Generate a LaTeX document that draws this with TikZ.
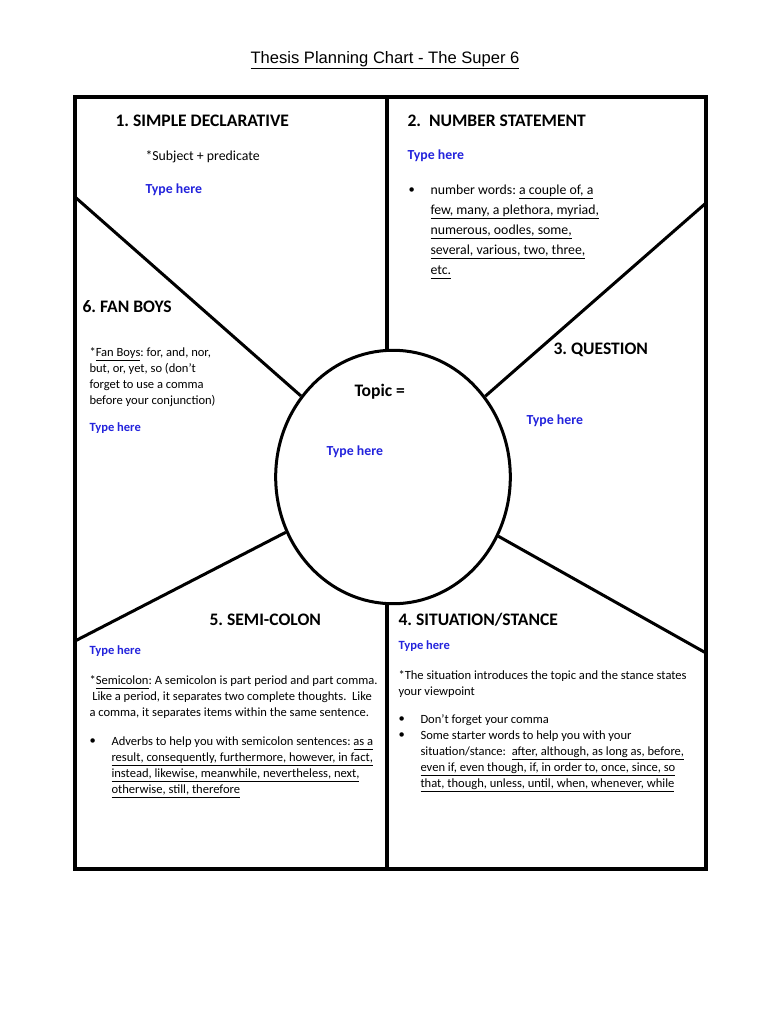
\documentclass[tikz,border=0pt]{standalone}
\usepackage{fontspec}
\setmainfont{Carlito}
\newfontfamily\titlefont{Liberation Sans}
\usepackage{xcolor}
\usepackage{tikz}
\usetikzlibrary{positioning, shapes.geometric}
\definecolor{TypeBlue}{HTML}{2323DC}
\newcommand{\bodyfont}{\fontsize{11}{15.9}\selectfont}
\newcommand{\smallfont}{\fontsize{10}{12.75}\selectfont}
\newcommand{\headfont}{\fontsize{14}{17}\selectfont\bfseries}
\newcommand{\ulword}[1]{\underline{#1\vphantom{y}}}
\frenchspacing

\begin{document}
\begin{tikzpicture}[x=0.797pt, y=-0.797pt, line width=2.4pt,
  heading/.style={anchor=base west, inner sep=0pt, font=\headfont},
  line/.style={anchor=base west, inner sep=0pt, font=\bodyfont},
  para/.style={anchor=north west, inner sep=0pt, align=left, font=\bodyfont},
  parasmall/.style={anchor=north west, inner sep=0pt, align=left, font=\smallfont},
  typehere/.style={anchor=base west, inner sep=0pt, text=TypeBlue, font=\bodyfont\bfseries},
  typesmall/.style={anchor=base west, inner sep=0pt, text=TypeBlue, font=\smallfont\bfseries},
  dot/.style={anchor=base west, inner sep=0pt, font=\smallfont}]
  \useasboundingbox (0,0) rectangle (768,1024);
  \node[inner sep=0pt, anchor=base, font=\titlefont\fontsize{13.2}{15}\selectfont] (title) at (385,63)
     {\underline{Thesis Planning Chart - The Super 6}};
  % frame and topic oval
  \draw[line width=3pt] (75,97) rectangle (706,869);
  \node[ellipse, draw, inner sep=0pt, minimum width=187pt, minimum height=202pt] (topic) at (393,477) {};
  \coordinate (midTop) at (387,97);
  \coordinate (midBot) at (387,869);
  \coordinate (leftUp) at (75,197);
  \coordinate (rightUp) at (706,203);
  \coordinate (leftLow) at (75,641);
  \coordinate (rightLow) at (706,653);
  \draw (midTop) -- (midTop |- topic.north);
  \draw (midBot) -- (midBot |- topic.south);
  \draw (leftUp) -- (topic);
  \draw (rightUp) -- (topic);
  \draw (leftLow) -- (topic);
  \draw (rightLow) -- (topic);
  % 1. simple declarative
  \node[heading] (declHead) at (114,126) {1. SIMPLE DECLARATIVE};
  \node[line] (declNote) at (144,160) {*Subject + predicate};
  \node[typehere] (declType) at (144,193) {Type here};
  % 2. number statement
  \node[heading] (numHead) at (406,126) {2.\ \ NUMBER STATEMENT};
  \node[typehere] (numType) at (406,159) {Type here};
  \node[dot] (numDot) at (407,193) {•};
  \node[para] (numText) at (429,179) {\strut number words: \ulword{a couple of, a}\\
     \ulword{few, many, a plethora, myriad,}\\
     \ulword{numerous, oodles, some,}\\
     \ulword{several, various, two, three,}\\
     \ulword{etc.}};
  % 6. fan boys
  \node[heading] (fanHead) at (81,312) {6. FAN BOYS};
  \node[parasmall] (fanText) at (88,344) {\strut*\ulword{Fan Boys}: for, and, nor,\\
     but, or, yet, so (don't\\
     forget to use a comma\\
     before your conjunction)};
  \node[typesmall] (fanType) at (88,431) {Type here};
  % 3. question
  \node[heading] (queHead) at (552,354) {3. QUESTION};
  \node[typehere] (queType) at (525,424) {Type here};
  % topic
  \node[heading] (topicHead) at (353,396) {Topic =};
  \node[typehere] (topicType) at (325,455) {Type here};
  % 5. semi-colon
  \node[heading] (semiHead) at (208,625) {5. SEMI-COLON};
  \node[typesmall] (semiType) at (88,654) {Type here};
  \node[parasmall] (semiText) at (88,672) {\strut*\ulword{Semicolon}: A semicolon is part period and part comma.\\
     \ Like a period, it separates two complete thoughts.\ \ Like\\
     a comma, it separates items within the same sentence.};
  \node[dot] (semiDot) at (88,744) {•};
  \node[parasmall] (semiList) at (110,733) {\strut Adverbs to help you with semicolon sentences: \ulword{as a}\\
     \ulword{result, consequently, furthermore, however, in fact,}\\
     \ulword{instead, likewise, meanwhile, nevertheless, next,}\\
     \ulword{otherwise, still, therefore}};
  % 4. situation/stance
  \node[heading] (sitHead) at (397,625) {4. SITUATION/STANCE};
  \node[typesmall] (sitType) at (397,649) {Type here};
  \node[parasmall] (sitText) at (397,667) {\strut*The situation introduces the topic and the stance states\\
     your viewpoint};
  \node[dot] (sitDotA) at (397,722) {•};
  \node[dot] (sitDotB) at (397,738) {•};
  \node[parasmall] (sitList) at (419,711) {\strut Don't forget your comma\\
     Some starter words to help you with your\\
     situation/stance:\ \ \ulword{after, although, as long as, before,}\\
     \ulword{even if, even though, if, in order to, once, since, so}\\
     \ulword{that, though, unless, until, when, whenever, while}};
\end{tikzpicture}
\end{document}
